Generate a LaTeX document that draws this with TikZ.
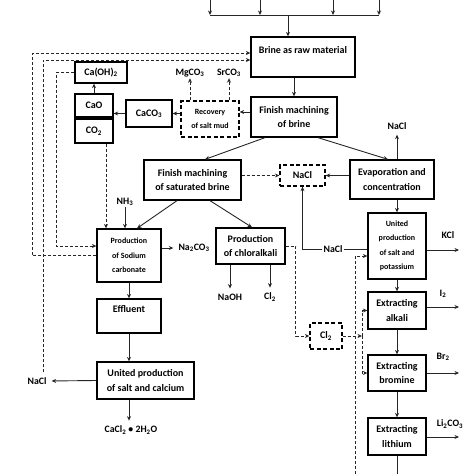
\documentclass[tikz,border=0pt]{standalone}
\usepackage{fontspec}
\setmainfont{Carlito}
\usetikzlibrary{arrows.meta}

\begin{document}
\begin{tikzpicture}[x=1pt,y=-1pt]
    % set the styles of boxes, labels and flows
    \tikzset{
        box/.style={draw, line width=1.3pt, align=center, inner sep=0pt,
            font=\bfseries\fontsize{10}{14.5}\selectfont},
        sbox/.style={box, font=\bfseries\fontsize{8}{14.5}\selectfont},
        dbox/.style={box, dash pattern=on 4pt off 2.5pt},
        lab/.style={font=\bfseries\fontsize{9.8}{11}\selectfont, inner sep=1pt},
        line/.style={line width=0.9pt, black!85},
        flow/.style={line, -{Stealth[length=4.5pt,width=4pt]}},
        tolab/.style={flow, shorten >=4pt},
        dline/.style={line, dash pattern=on 3pt off 2pt},
        dflow/.style={flow, dash pattern=on 3pt off 2pt}
    }
    \useasboundingbox (0,0) rectangle (474,474);

    % main line
    \node[box, minimum width=104pt, minimum height=40pt] (brine) at (303,57) {Brine as raw material\\\mbox{}};
    \node[box, minimum width=86pt, minimum height=40pt] (fmb) at (294,117) {Finish machining\\of brine};
    \node[box, minimum width=97pt, minimum height=40pt] (fmsb) at (192.5,180) {Finish machining\\of saturated brine};
    \node[box, minimum width=84pt, minimum height=39pt] (evap) at (392,179.5) {Evaporation and\\concentration};
    \node[dbox, minimum width=45pt, minimum height=21pt] (nacld) at (302.5,175.5) {NaCl};

    % salt mud and lime
    \node[dbox, font=\bfseries\fontsize{8}{14.5}\selectfont, minimum width=58pt, minimum height=36pt] (recov) at (210,119) {Recovery\\of salt mud};
    \node[box, minimum width=46pt, minimum height=27pt] (caco) at (149,113.5) {CaCO\textsubscript{3}};
    \node[box, minimum width=38pt, minimum height=23pt] (cao) at (94,105.5) {CaO};
    \node[box, minimum width=38pt, minimum height=24pt] (co2) at (94,131) {CO\textsubscript{2}};
    \node[box, minimum width=52pt, minimum height=21pt] (caoh) at (101,72.5) {Ca(OH)\textsubscript{2}};

    % soda and chloralkali
    \node[sbox, minimum width=64pt, minimum height=53pt] (soda) at (129,255.5) {Production\\of Sodium\\carbonate};
    \node[box, minimum width=69pt, minimum height=36pt] (chlor) at (250.5,246) {Production\\of chloralkali};
    \node[box, minimum width=64pt, minimum height=34pt] (effl) at (129,316) {Effluent\\\mbox{}};
    \node[box, minimum width=97pt, minimum height=37pt] (upc) at (145.5,380.5) {United production\\of salt and calcium};
    \node[dbox, minimum width=32pt, minimum height=26pt] (clbox) at (326,336) {Cl\textsubscript{2}};

    % right column
    \node[sbox, minimum width=58pt, minimum height=66pt] (ups) at (397,246) {United\\production\\of salt and\\potassium};
    \node[box, minimum width=58pt, minimum height=37pt] (alk) at (397,310.5) {Extracting\\alkali};
    \node[box, minimum width=58pt, minimum height=36pt] (brom) at (397,373) {Extracting\\bromine};
    \node[box, minimum width=58pt, minimum height=37pt] (lith) at (397,436.5) {Extracting\\lithium};

    % products
    \node[lab] (mgco) at (190,73) {MgCO\textsubscript{3}};
    \node[lab] (srco) at (229,73) {SrCO\textsubscript{3}};
    \node[lab] (nacltop) at (397,126) {NaCl};
    \node[lab] (nh) at (125,202) {NH\textsubscript{3}};
    \node[lab] (naco) at (194,248) {Na\textsubscript{2}CO\textsubscript{3}};
    \node[lab] (naoh) at (230,297) {NaOH};
    \node[lab] (clt) at (270,297) {Cl\textsubscript{2}};
    \node[lab] (kcl) at (448,235) {KCl};
    \node[lab] (naclm) at (333,249) {NaCl};
    \node[lab] (nacll) at (37,381) {NaCl};
    \node[lab] (cacl) at (131,430) {CaCl\textsubscript{2} \textbullet\ 2H\textsubscript{2}O};
    \node[lab] (iod) at (443,294) {I\textsubscript{2}};
    \node[lab] (brm) at (443,357) {Br\textsubscript{2}};
    \node[lab] (lico) at (450,424) {Li\textsubscript{2}CO\textsubscript{3}};

    % free ends
    \coordinate (jn) at (288,15);
    \coordinate (kclend) at (459,250);
    \coordinate (iodend) at (459,307);
    \coordinate (brmend) at (459,373);
    \coordinate (licoend) at (459,437);
    \coordinate (cj) at (362,336);
    \coordinate (btm) at (355,474);
    \coordinate (lithend) at (397,474);

    % inflow at the top
    \foreach \x in {210,260,333,379} {
        \coordinate (in\x) at (\x,0);
        \coordinate (bus\x) at (\x,15);
        \draw[flow] (in\x) -- (bus\x);
    }
    \draw[line] (bus210) -- (bus379);
    \draw[flow] (jn) -- (jn |- brine.north);

    % brine treatment
    \draw[flow] (brine.south -| fmb.north) -- (fmb.north);
    \draw[flow] ([yshift=5pt]fmb.west) -- ([yshift=5pt]fmb.west -| recov.east);
    \draw[flow] (recov.west |- caco.east) -- (caco.east);
    \draw[flow] (caco.west) -- (caco.west -| cao.east);
    \draw[flow] (cao.north) -- (cao.north |- caoh.south);
    \draw[dflow] (recov.north -| mgco) -- (mgco.south);
    \draw[dflow] (recov.north -| srco) -- (srco.south);
    \draw[flow] ([xshift=-29pt]fmb.south) -- ([xshift=12.5pt]fmsb.north);
    \draw[flow] ([xshift=24pt]fmb.south) -- ([xshift=-4pt]evap.north);
    \draw[tolab] (evap.north -| nacltop) -- (nacltop.south);
    \draw[dflow] (fmsb.east |- nacld.west) -- (nacld.west);
    \draw[flow] (evap.west |- nacld.east) -- (nacld.east);

    % soda ash and chloralkali
    \draw[flow] ([xshift=-15.5pt]fmsb.south) -- ([xshift=8pt]soda.north);
    \draw[flow] ([xshift=17.5pt]fmsb.south) -- ([xshift=1.5pt]chlor.north);
    \draw[flow] (nh.south) -- (nh.south |- soda.north);
    \draw[tolab] (soda.east |- naco.west) -- (naco.west);
    \draw[dflow] ([xshift=12pt]co2.south) -- ([xshift=12pt]co2.south |- soda.north);
    \draw[dflow] (caoh.west) -- ++(-18,0) |- ([yshift=9.5pt]soda.west);
    \draw[dflow] (soda.west) -- ++(-64,0) |- ([yshift=4pt]brine.west);
    \draw[dflow] ([xshift=6pt,yshift=4pt]nacll.north) |- ([yshift=-3pt]brine.west);
    \draw[flow] (soda.south) -- (effl.north);
    \draw[flow] (effl.south) -- (effl.south |- upc.north);
    \draw[tolab] (upc.west) -- (nacll.east);
    \draw[tolab] (effl.south |- upc.south) -- (effl.south |- cacl.north);
    \draw[tolab] (chlor.south -| naoh) -- (naoh.north);
    \draw[tolab] (chlor.south -| clt) -- (clt.north);
    \draw[dflow] (chlor.east) -- ++(10,0) |- (clbox.west);
    \draw[dflow] (clbox.east) -- (cj);
    \draw[dflow] (cj) |- (alk.west);
    \draw[dflow] (cj) |- (brom.west);

    % salt, potassium and extraction
    \draw[flow] (evap.south -| ups.north) -- (ups.north);
    \draw[line] (ups.west |- naclm) -- (naclm.east);
    \draw[flow] (naclm.west) -| (nacld.south);
    \draw[dflow] (btm) |- ([yshift=-10pt]ups.west);
    \draw[flow] (ups.east |- kclend) -- (kclend);
    \draw[flow] (ups.south) -- (alk.north);
    \draw[flow] (alk.east |- iodend) -- (iodend);
    \draw[flow] (alk.south) -- (brom.north);
    \draw[flow] (brom.east |- brmend) -- (brmend);
    \draw[flow] (brom.south) -- (lith.north);
    \draw[flow] (lith.east |- licoend) -- (licoend);
    \draw[line] (lith.south) -- (lithend);
\end{tikzpicture}
\end{document}
